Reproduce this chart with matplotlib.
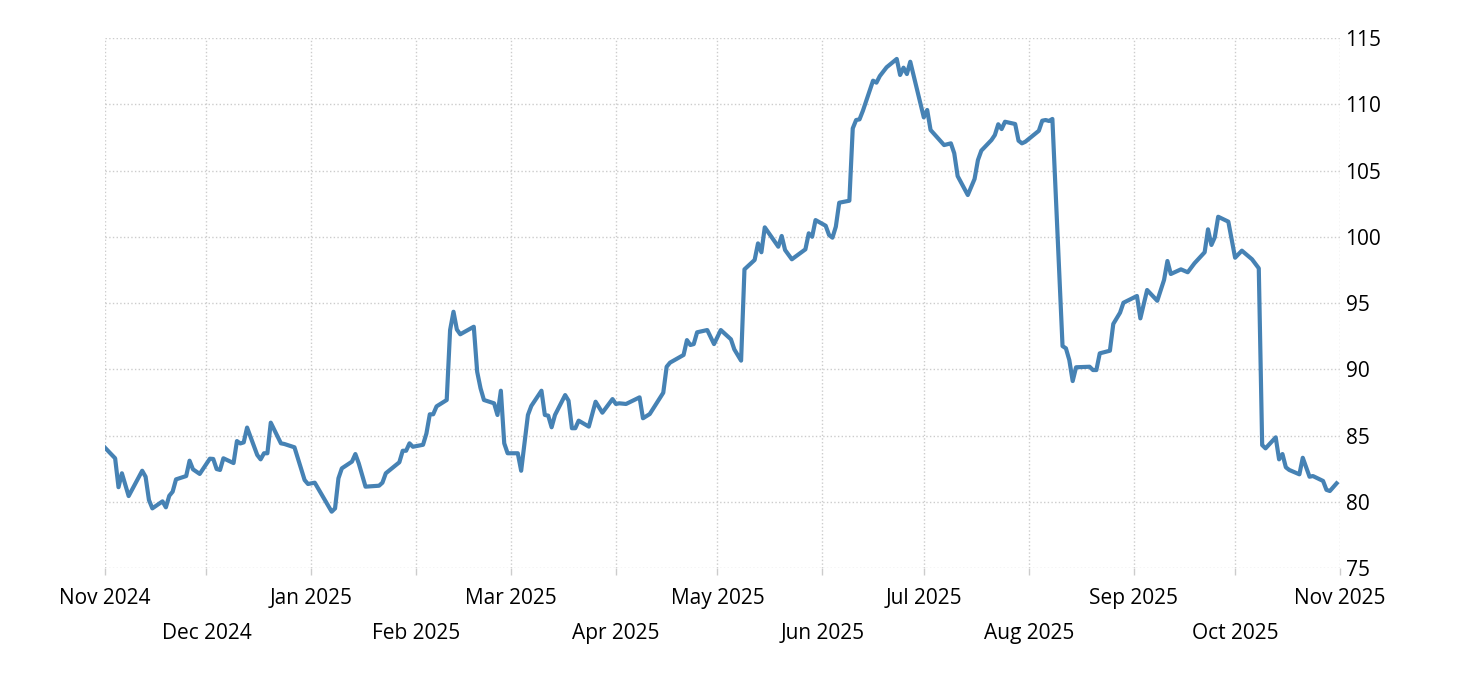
import matplotlib.pyplot as plt
import matplotlib.dates as mdates
import pandas as pd

dates = [
    "2024-11-01", "2024-11-04", "2024-11-05", "2024-11-06", "2024-11-08",
    "2024-11-12", "2024-11-13", "2024-11-14", "2024-11-15", "2024-11-18",
    "2024-11-19", "2024-11-20", "2024-11-21", "2024-11-22", "2024-11-25",
    "2024-11-26", "2024-11-27", "2024-11-29", "2024-12-02", "2024-12-03",
    "2024-12-04", "2024-12-05", "2024-12-06", "2024-12-09", "2024-12-10",
    "2024-12-11", "2024-12-12", "2024-12-13", "2024-12-16", "2024-12-17",
    "2024-12-18", "2024-12-19", "2024-12-20", "2024-12-23", "2024-12-24",
    "2024-12-27", "2024-12-30", "2024-12-31", "2025-01-02", "2025-01-07",
    "2025-01-08", "2025-01-09", "2025-01-10", "2025-01-13", "2025-01-14",
    "2025-01-15", "2025-01-17", "2025-01-21", "2025-01-22", "2025-01-23",
    "2025-01-27", "2025-01-28", "2025-01-29", "2025-01-30", "2025-01-31",
    "2025-02-03", "2025-02-04", "2025-02-05", "2025-02-06", "2025-02-07",
    "2025-02-10", "2025-02-11", "2025-02-12", "2025-02-13", "2025-02-14",
    "2025-02-18", "2025-02-19", "2025-02-20", "2025-02-21", "2025-02-24",
    "2025-02-25", "2025-02-26", "2025-02-27", "2025-02-28", "2025-03-03",
    "2025-03-04", "2025-03-06", "2025-03-07", "2025-03-10", "2025-03-11",
    "2025-03-12", "2025-03-13", "2025-03-14", "2025-03-17", "2025-03-18",
    "2025-03-19", "2025-03-20", "2025-03-21", "2025-03-24", "2025-03-26",
    "2025-03-28", "2025-03-31", "2025-04-01", "2025-04-02", "2025-04-04",
    "2025-04-08", "2025-04-09", "2025-04-11", "2025-04-15", "2025-04-16",
    "2025-04-17", "2025-04-21", "2025-04-22", "2025-04-23", "2025-04-24",
    "2025-04-25", "2025-04-28", "2025-04-30", "2025-05-02", "2025-05-05",
    "2025-05-06", "2025-05-08", "2025-05-09", "2025-05-12", "2025-05-13",
    "2025-05-14", "2025-05-15", "2025-05-19", "2025-05-20", "2025-05-21",
    "2025-05-23", "2025-05-27", "2025-05-28", "2025-05-29", "2025-05-30",
    "2025-06-02", "2025-06-03", "2025-06-04", "2025-06-05", "2025-06-06",
    "2025-06-09", "2025-06-10", "2025-06-11", "2025-06-12", "2025-06-13",
    "2025-06-16", "2025-06-17", "2025-06-18", "2025-06-20", "2025-06-23",
    "2025-06-24", "2025-06-25", "2025-06-26", "2025-06-27", "2025-07-01",
    "2025-07-02", "2025-07-03", "2025-07-07", "2025-07-09", "2025-07-10",
    "2025-07-11", "2025-07-14", "2025-07-16", "2025-07-17", "2025-07-18",
    "2025-07-21", "2025-07-22", "2025-07-23", "2025-07-24", "2025-07-25",
    "2025-07-28", "2025-07-29", "2025-07-30", "2025-07-31", "2025-08-04",
    "2025-08-05", "2025-08-06", "2025-08-07", "2025-08-08", "2025-08-11",
    "2025-08-12", "2025-08-13", "2025-08-14", "2025-08-15", "2025-08-19",
    "2025-08-20", "2025-08-21", "2025-08-22", "2025-08-25", "2025-08-26",
    "2025-08-28", "2025-08-29", "2025-09-02", "2025-09-03", "2025-09-05",
    "2025-09-08", "2025-09-10", "2025-09-11", "2025-09-12", "2025-09-15",
    "2025-09-17", "2025-09-19", "2025-09-22", "2025-09-23", "2025-09-24",
    "2025-09-25", "2025-09-26", "2025-09-29", "2025-10-01", "2025-10-03",
    "2025-10-06", "2025-10-08", "2025-10-09", "2025-10-10", "2025-10-13",
    "2025-10-14", "2025-10-15", "2025-10-16", "2025-10-17", "2025-10-20",
    "2025-10-21", "2025-10-23", "2025-10-24", "2025-10-27", "2025-10-28",
    "2025-10-29", "2025-10-31",
]

values = [
    84.08, 83.28, 81.10, 82.15, 80.43,
    82.34, 81.89, 80.13, 79.50, 80.03,
    79.58, 80.45, 80.76, 81.69, 81.94,
    83.10, 82.45, 82.10, 83.25, 83.23,
    82.47, 82.40, 83.28, 82.92, 84.58,
    84.40, 84.48, 85.60, 83.53, 83.20,
    83.66, 83.66, 85.97, 84.41, 84.36,
    84.11, 81.64, 81.34, 81.44, 79.25,
    79.50, 81.77, 82.52, 83.03, 83.60,
    82.90, 81.14, 81.21, 81.44, 82.15,
    82.98, 83.85, 83.85, 84.41, 84.15,
    84.30, 85.15, 86.60, 86.60, 87.20,
    87.68, 92.96, 94.34, 93.00, 92.64,
    93.21, 89.81, 88.56, 87.68, 87.43,
    86.55, 88.38, 84.41, 83.66, 83.66,
    82.34, 86.55, 87.23, 88.38, 86.55,
    86.50, 85.62, 86.55, 88.05, 87.63,
    85.55, 85.55, 86.12, 85.67, 87.55,
    86.72, 87.75, 87.38, 87.43, 87.38,
    87.88, 86.30, 86.62, 88.23, 90.19,
    90.50, 91.08, 92.20, 91.83, 91.90,
    92.79, 92.96, 91.90, 92.96, 92.26,
    91.50, 90.65, 97.54, 98.25, 99.50,
    98.83, 100.71, 99.25, 100.06, 99.00,
    98.30, 99.05, 100.26, 100.00, 101.26,
    100.83, 100.13, 99.93, 100.76, 102.57,
    102.72, 108.18, 108.81, 108.86, 109.51,
    111.78, 111.63, 112.13, 112.79, 113.42,
    112.21, 112.76, 112.28, 113.21, 109.01,
    109.57, 108.06, 106.92, 107.05, 106.30,
    104.58, 103.15, 104.36, 105.79, 106.50,
    107.30, 107.68, 108.49, 108.13, 108.68,
    108.51, 107.25, 107.05, 107.17, 108.00,
    108.76, 108.81, 108.74, 108.89, 91.75,
    91.58, 90.70, 89.11, 90.15, 90.19,
    89.94, 89.94, 91.20, 91.40, 93.42,
    94.27, 95.02, 95.53, 93.84, 95.98,
    95.17, 96.74, 98.17, 97.19, 97.54,
    97.32, 98.00, 98.83, 100.56, 99.38,
    99.96, 101.51, 101.14, 98.42, 98.95,
    98.30, 97.62, 84.28, 84.03, 84.86,
    83.20, 83.60, 82.60, 82.40, 82.07,
    83.32, 81.89, 81.94, 81.57, 80.90,
    80.81, 81.39,
]

y_ticks = [75, 80, 85, 90, 95, 100, 105, 110, 115]

plt.rcParams["font.family"] = ["Open Sans", "DejaVu Sans"]

x = pd.to_datetime(dates)

fig = plt.figure(figsize=(14.6, 6.8), dpi=100)
ax = fig.add_axes([0.0719, 0.1647, 0.8459, 0.7794])

ax.plot(x, values, color="#4682b4", linewidth=3.0, solid_joinstyle="round")

ax.set_xlim(pd.Timestamp("2024-11-01"), pd.Timestamp("2025-11-01"))
ax.set_ylim(75, 115)
ax.set_yticks(y_ticks)

ax.yaxis.tick_right()
ax.tick_params(axis="y", length=0, pad=4, labelsize=15, colors="black")

# two rows of month labels: odd months on top, even months below
ax.xaxis.set_major_locator(mdates.MonthLocator(bymonth=[1, 3, 5, 7, 9, 11]))
ax.xaxis.set_minor_locator(mdates.MonthLocator(bymonth=[2, 4, 6, 8, 10, 12]))
ax.xaxis.set_major_formatter(mdates.DateFormatter("%b %Y"))
ax.xaxis.set_minor_formatter(mdates.DateFormatter("%b %Y"))
ax.tick_params(axis="x", which="major", length=5, width=1, color="#cccccc",
               pad=9.5, labelsize=15)
ax.tick_params(axis="x", which="minor", length=5, width=1, color="#cccccc",
               pad=34.5, labelsize=15)

ax.grid(True, which="both", axis="x", color="#cccccc", linestyle=":", linewidth=1)
ax.grid(True, which="major", axis="y", color="#cccccc", linestyle=":", linewidth=1)

for s in ax.spines.values():
    s.set_visible(False)

fig.savefig("out.png", dpi=100)
